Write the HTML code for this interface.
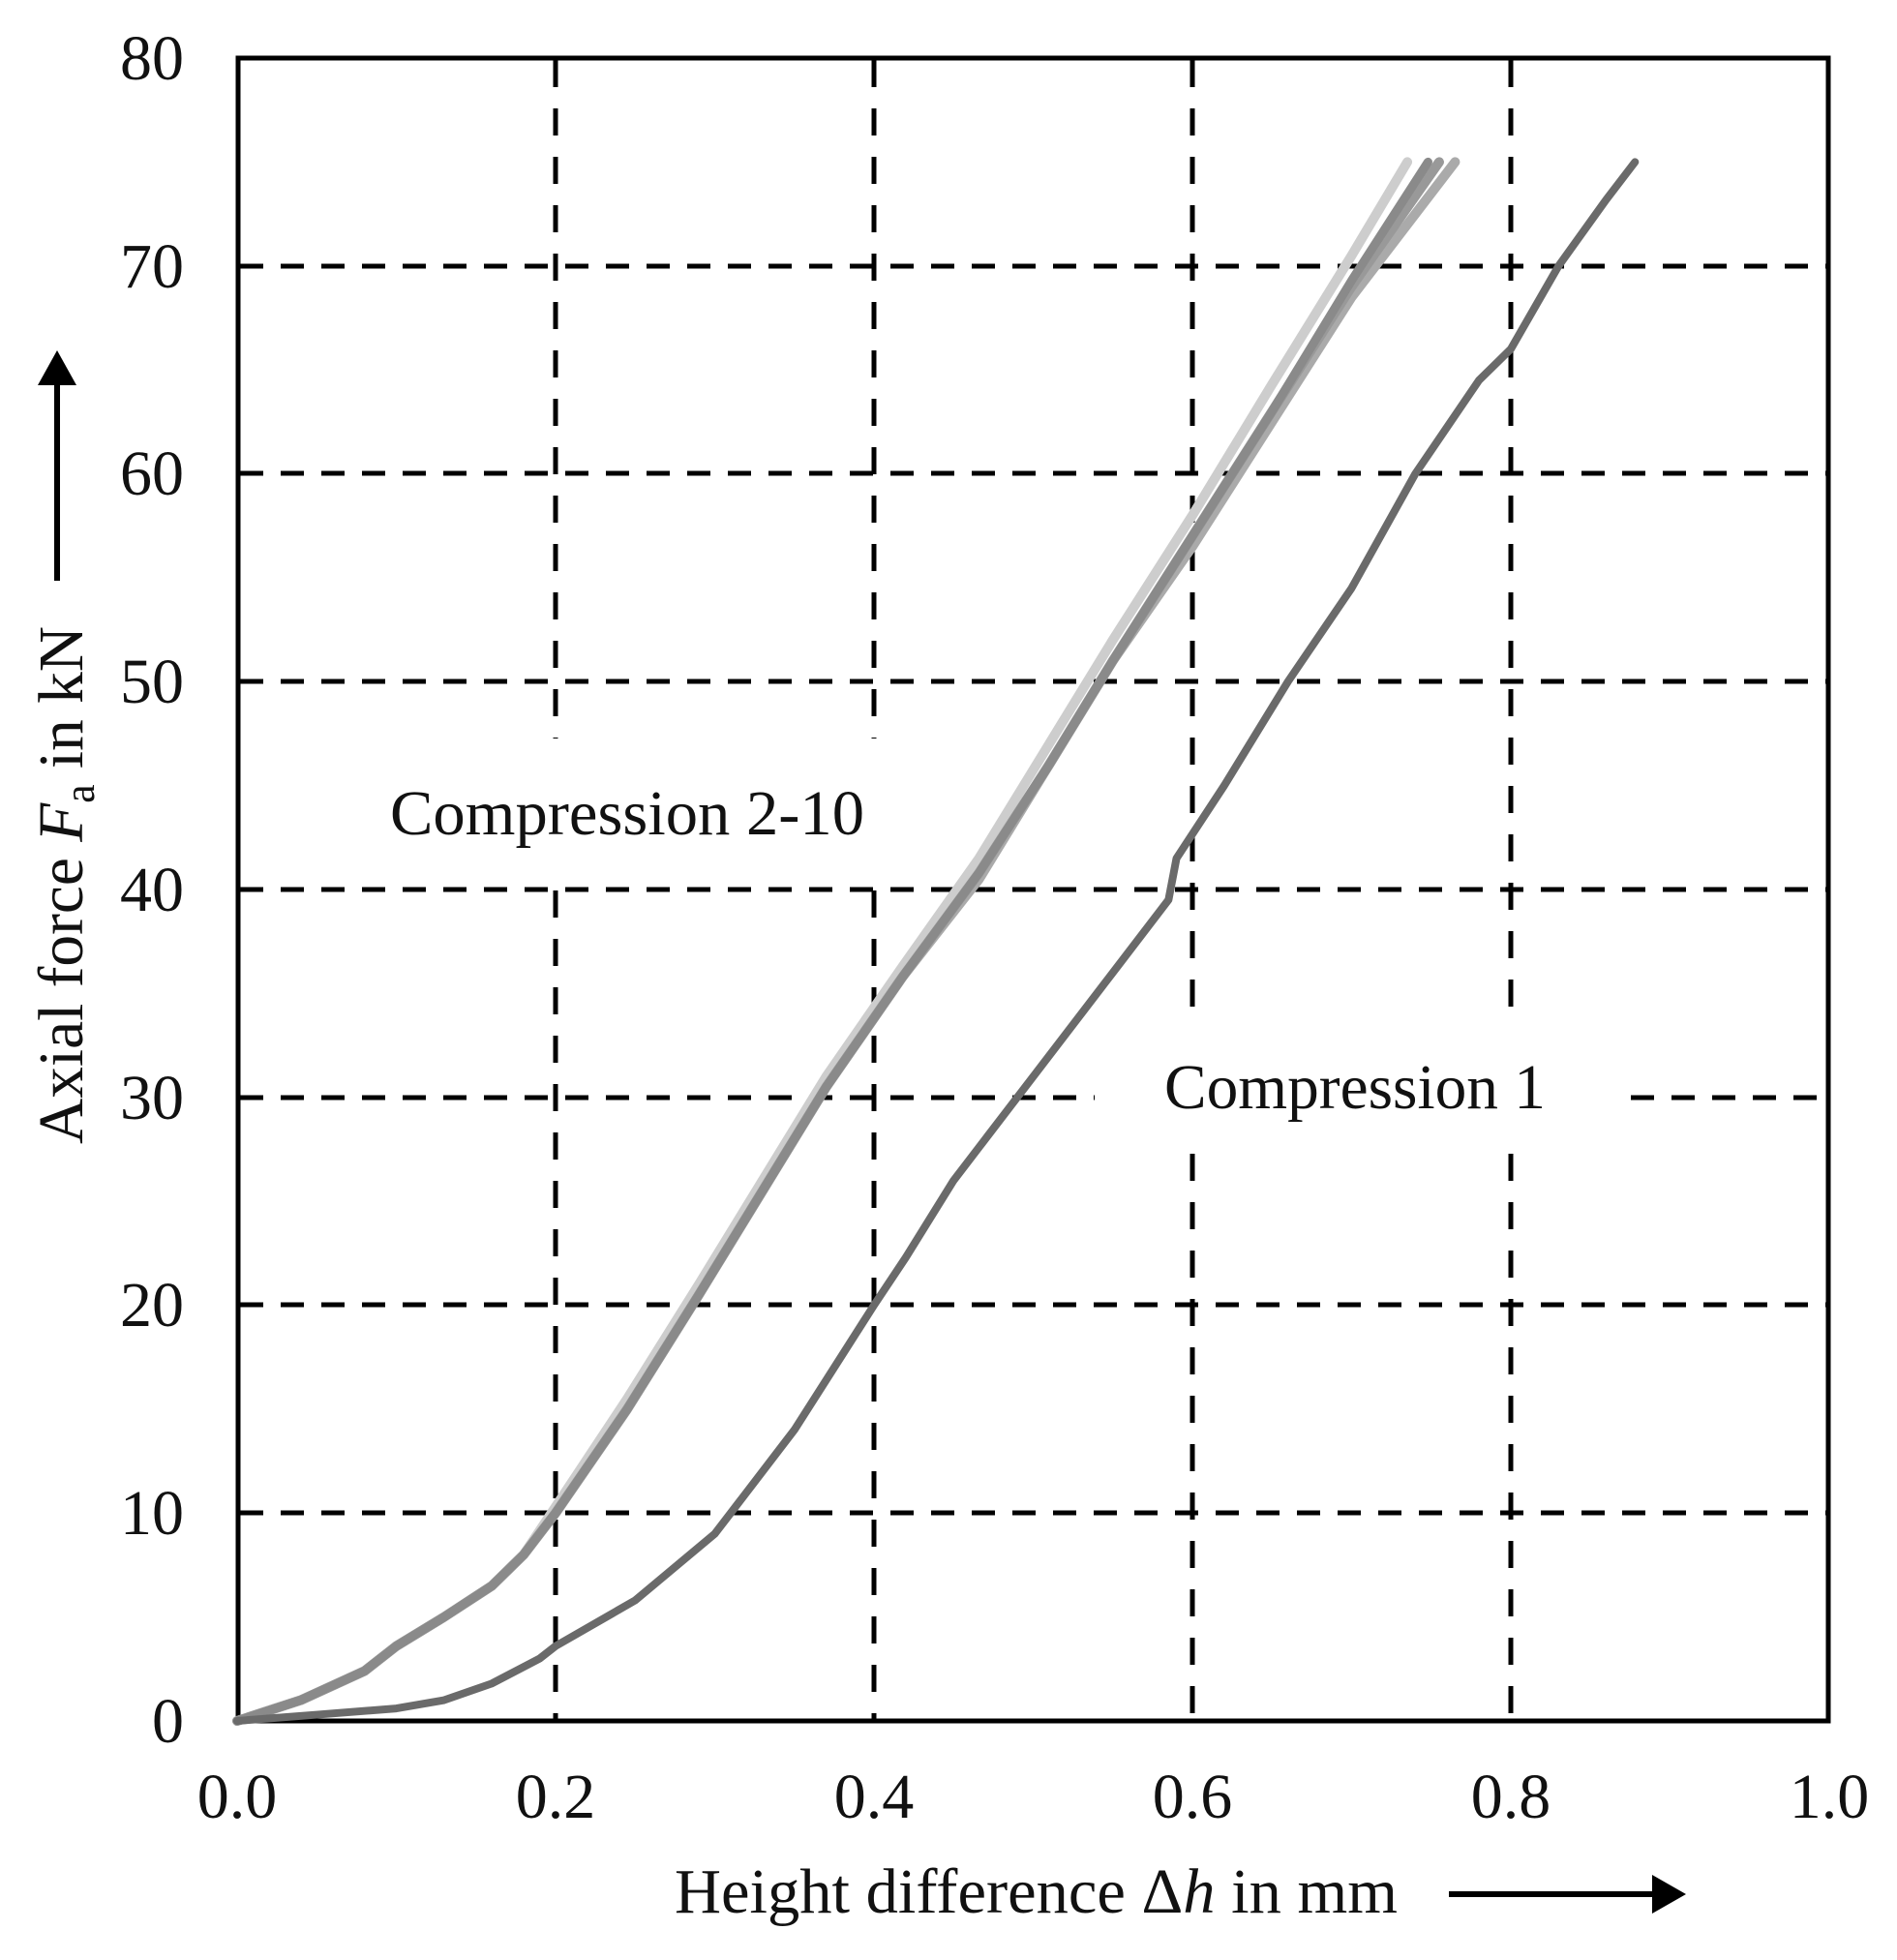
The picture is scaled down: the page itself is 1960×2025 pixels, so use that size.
<!DOCTYPE html>
<html><head><meta charset="utf-8"><style>
html,body{margin:0;padding:0;background:#fff}
svg{display:block}
text{font-family:"Liberation Serif",serif;fill:#111}
</style></head><body>
<svg width="1960" height="2025" viewBox="0 0 1960 2025" xmlns="http://www.w3.org/2000/svg">
<g stroke="#000" stroke-width="5" fill="none">
<g stroke-dasharray="24 18">
<line x1="248" y1="275" x2="1887" y2="275"/>
<line x1="248" y1="489" x2="1887" y2="489"/>
<line x1="248" y1="704" x2="1887" y2="704"/>
<line x1="248" y1="919" x2="1887" y2="919"/>
<line x1="248" y1="1134" x2="1131" y2="1134"/>
<line x1="1685" y1="1134" x2="1887" y2="1134"/>
<line x1="248" y1="1348" x2="1887" y2="1348"/>
<line x1="248" y1="1563" x2="1887" y2="1563"/>
</g>
<g stroke-dasharray="28 22">
<line x1="574" y1="62" x2="574" y2="763"/>
<line x1="574" y1="920" x2="574" y2="1776"/>
<line x1="903" y1="62" x2="903" y2="763"/>
<line x1="903" y1="920" x2="903" y2="1776"/>
<line x1="1232" y1="62" x2="1232" y2="1048"/>
<line x1="1232" y1="1192" x2="1232" y2="1776"/>
<line x1="1561" y1="62" x2="1561" y2="1048"/>
<line x1="1561" y1="1192" x2="1561" y2="1776"/>
</g>
<rect x="246" y="60" width="1643" height="1718"/>
</g>

<g transform="translate(245,1778) scale(1645,-21.475)" fill="none" stroke-linejoin="round" stroke-linecap="round">
<polyline vector-effect="non-scaling-stroke" stroke="#cdcdcd" stroke-width="10" points="0,0 0.04,1 0.08,2.4 0.1,3.6 0.13,5 0.16,6.5 0.18,8 0.2,10.3 0.245,15.5 0.29,21 0.33,26 0.37,31 0.418,36.3 0.466,41.5 0.51,47 0.55,52 0.6,58 0.65,64.3 0.7,70.5 0.735,75"/>
<polyline vector-effect="non-scaling-stroke" stroke="#aaaaaa" stroke-width="10" points="0,0 0.04,1 0.08,2.4 0.1,3.6 0.13,5 0.16,6.5 0.18,8 0.2,10 0.245,15 0.29,20.5 0.33,25.5 0.37,30.5 0.418,35.8 0.466,40.5 0.51,46 0.55,51 0.6,56.5 0.65,62.5 0.7,68.5 0.765,75"/>
<polyline vector-effect="non-scaling-stroke" stroke="#999" stroke-width="10" points="0,0 0.04,1 0.08,2.4 0.1,3.6 0.13,5 0.16,6.5 0.18,8 0.2,10 0.245,15 0.29,20.5 0.33,25.5 0.37,30.5 0.418,35.8 0.466,40.8 0.51,46 0.55,51 0.6,57 0.65,63 0.7,69 0.755,75"/>
<polyline vector-effect="non-scaling-stroke" stroke="#8a8a8a" stroke-width="9" points="0,0 0.04,1 0.08,2.4 0.1,3.6 0.13,5 0.16,6.5 0.18,8 0.2,10 0.245,15 0.29,20.5 0.33,25.5 0.37,30.5 0.418,35.8 0.466,40.8 0.51,46 0.55,51 0.6,57 0.65,63 0.7,69.3 0.748,75"/>
<polyline vector-effect="non-scaling-stroke" stroke="#6a6a6a" stroke-width="8" points="0,0 0.05,0.3 0.1,0.6 0.13,1 0.16,1.8 0.19,3 0.2,3.6 0.25,5.8 0.3,9 0.35,14 0.4,20 0.42,22.3 0.45,26 0.5,31 0.55,36 0.585,39.5 0.59,41.5 0.62,45 0.66,50 0.7,54.5 0.74,60 0.78,64.5 0.8,66 0.83,70 0.86,73.2 0.878,75"/>
</g>

<g font-size="66" text-anchor="end">
<text x="190" y="82">80</text>
<text x="190" y="297">70</text>
<text x="190" y="511">60</text>
<text x="190" y="726">50</text>
<text x="190" y="941">40</text>
<text x="190" y="1156">30</text>
<text x="190" y="1370">20</text>
<text x="190" y="1585">10</text>
<text x="190" y="1800">0</text>
</g>
<g font-size="66" text-anchor="middle">
<text x="245" y="1878">0.0</text>
<text x="574" y="1878">0.2</text>
<text x="903" y="1878">0.4</text>
<text x="1232" y="1878">0.6</text>
<text x="1561" y="1878">0.8</text>
<text x="1890" y="1878">1.0</text>
</g>
<text x="403" y="862" font-size="66" textLength="490" lengthAdjust="spacingAndGlyphs">Compression 2-10</text>
<text x="1203" y="1145" font-size="66" textLength="394" lengthAdjust="spacingAndGlyphs">Compression 1</text>
<text x="697" y="1976" font-size="66" textLength="747" lengthAdjust="spacingAndGlyphs">Height difference Δ<tspan font-style="italic">h</tspan> in mm</text>
<text transform="translate(85,1182) rotate(-90)" font-size="66" textLength="535" lengthAdjust="spacingAndGlyphs">Axial force <tspan font-style="italic">F</tspan><tspan font-size="44" dy="12">a</tspan><tspan dy="-12"> in kN</tspan></text>
<line x1="1497" y1="1957" x2="1710" y2="1957" stroke="#000" stroke-width="6"/>
<polygon points="1707,1937 1742,1957 1707,1977" fill="#000"/>
<line x1="59" y1="600" x2="59" y2="395" stroke="#000" stroke-width="6"/>
<polygon points="39,398 59,362 79,398" fill="#000"/>
</svg>
</body></html>
